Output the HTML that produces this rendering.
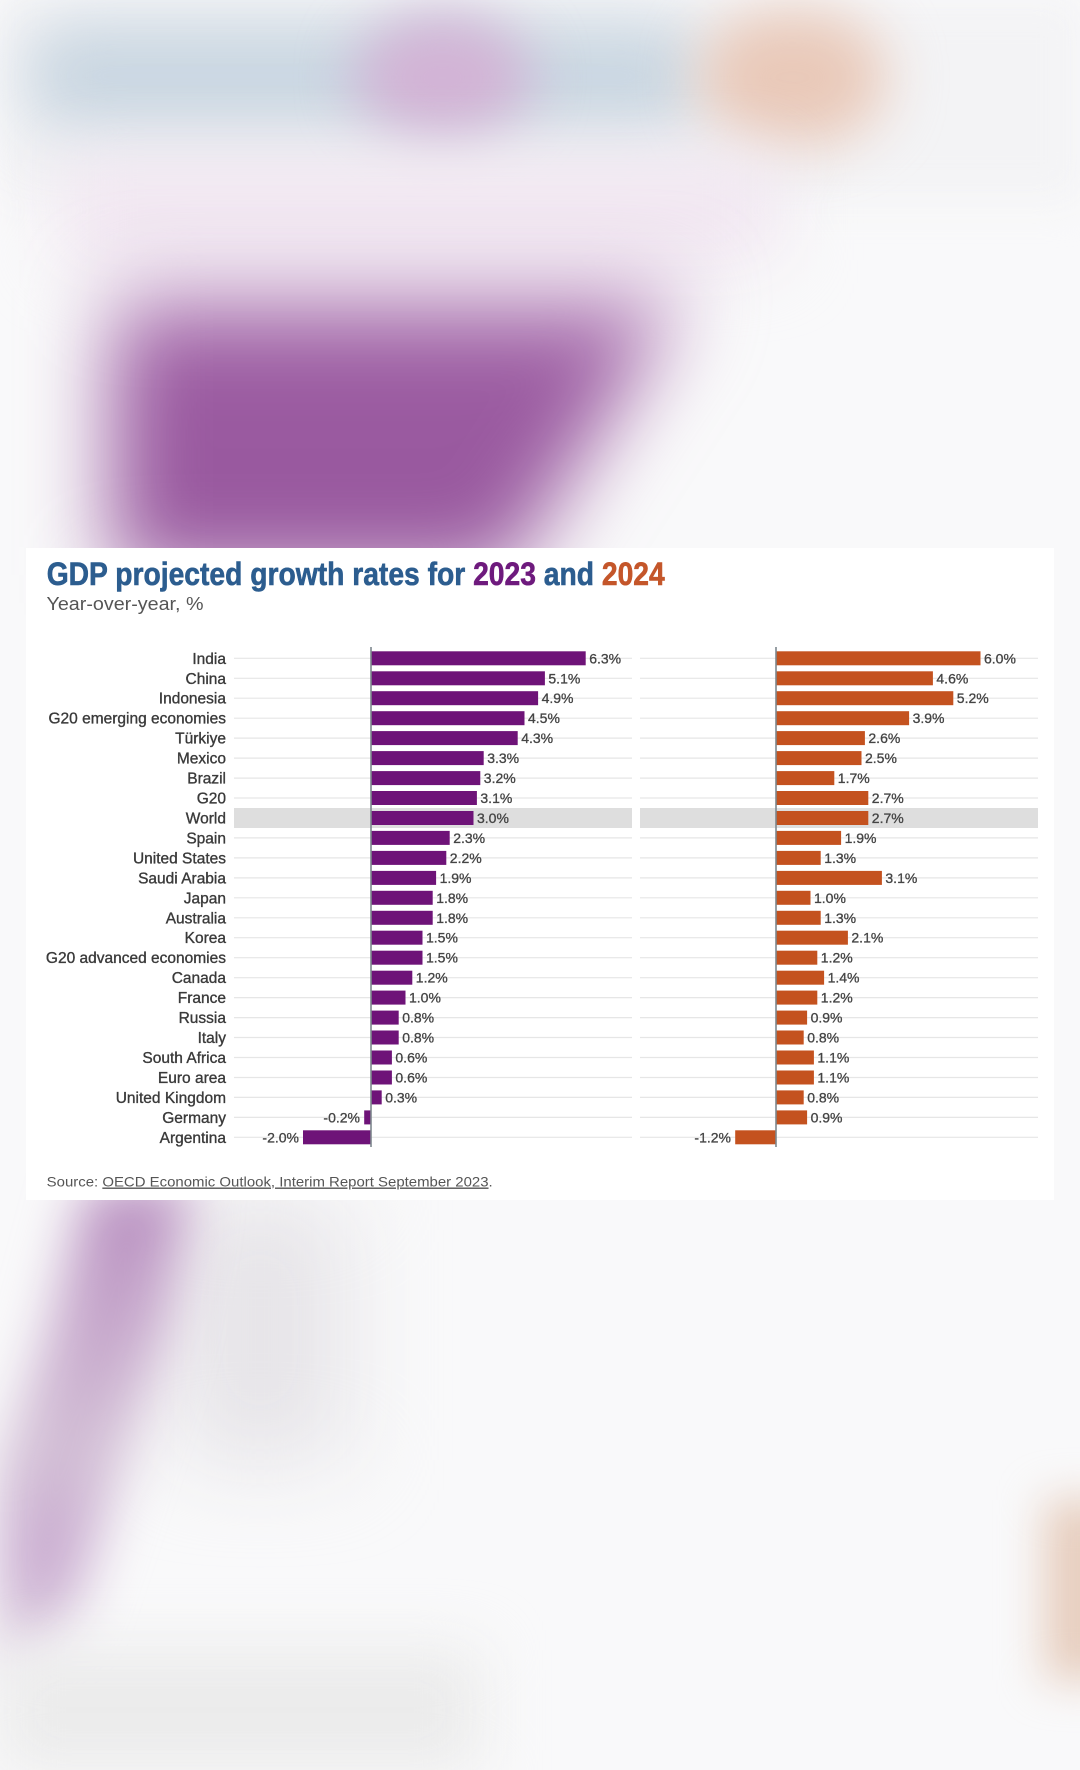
<!DOCTYPE html>
<html><head><meta charset="utf-8">
<style>
html,body{margin:0;padding:0;}
body{width:1080px;height:1748px;position:relative;overflow:hidden;background:#f9f9fa;font-family:"Liberation Sans",sans-serif;}
.b{position:absolute;}
.bl{position:absolute;left:0;top:0;width:1080px;height:1748px;}
</style></head>
<body>
<!-- blurred background -->
<div class="b" style="left:0;top:0;width:1080px;height:200px;background:#f3f3f5;filter:blur(20px)"></div>
<div class="b" style="left:25px;top:22px;width:680px;height:108px;background:#c9d6e1;filter:blur(32px);border-radius:40px"></div>
<div class="b" style="left:355px;top:15px;width:175px;height:125px;background:#d2b3d5;filter:blur(28px);border-radius:50%"></div>
<div class="b" style="left:700px;top:10px;width:185px;height:135px;background:#e9c9b9;filter:blur(28px);border-radius:45%"></div>
<div class="b" style="left:60px;top:160px;width:720px;height:100px;background:#f1e6f1;filter:blur(35px)"></div>
<div class="bl" style="filter:blur(42px)"><div class="bl" style="background:linear-gradient(#d3b4d6 0px,#d3b4d6 290px,#9b5ba1 350px,#98589e 570px);clip-path:polygon(112px 288px,690px 288px,505px 575px,112px 575px)"></div></div>
<div class="b" style="left:175px;top:1200px;width:170px;height:260px;background:#e6e4e8;filter:blur(45px)"></div>
<div class="bl" style="filter:blur(26px)"><div class="bl" style="background:linear-gradient(#b88fc0 1190px,#c7a9cc 1330px,#d3c0d6 1450px,#c9abd0 1560px,#ddd0df 1660px);clip-path:polygon(88px 1185px,190px 1185px,165px 1330px,120px 1470px,70px 1620px,0px 1670px,0px 1470px,50px 1330px)"></div></div>
<div class="b" style="left:0;top:1650px;width:480px;height:120px;background:#ebebeb;filter:blur(30px)"></div>
<div class="b" style="left:1045px;top:1500px;width:70px;height:180px;background:#e6ccbc;filter:blur(22px)"></div>

<svg class="b" style="left:0;top:0" width="1080" height="1748" viewBox="0 0 1080 1748" xmlns="http://www.w3.org/2000/svg" font-family="Liberation Sans, sans-serif">
<rect x="26" y="548" width="1028" height="652" fill="#ffffff"/>
<text x="46.7" y="585" font-size="32" font-weight="bold" fill="#2c5d8f" stroke="#2c5d8f" stroke-width="0.6" textLength="618" lengthAdjust="spacingAndGlyphs">GDP projected growth rates for <tspan fill="#6e1a7d" stroke="#6e1a7d">2023</tspan> and <tspan fill="#c4562a" stroke="#c4562a">2024</tspan></text>
<text x="46.5" y="610" font-size="18" fill="#555555" textLength="157" lengthAdjust="spacingAndGlyphs">Year-over-year, %</text>

<!-- highlight bands for World -->
<rect x="234" y="808" width="398" height="20" fill="#dedede"/>
<rect x="640" y="808" width="398" height="20" fill="#dedede"/>

<g stroke="#e6e6e6" stroke-width="1.2">
<line x1="234" x2="632" y1="658.3" y2="658.3"/><line x1="640" x2="1038" y1="658.3" y2="658.3"/>
<line x1="234" x2="632" y1="678.3" y2="678.3"/><line x1="640" x2="1038" y1="678.3" y2="678.3"/>
<line x1="234" x2="632" y1="698.2" y2="698.2"/><line x1="640" x2="1038" y1="698.2" y2="698.2"/>
<line x1="234" x2="632" y1="718.2" y2="718.2"/><line x1="640" x2="1038" y1="718.2" y2="718.2"/>
<line x1="234" x2="632" y1="738.1" y2="738.1"/><line x1="640" x2="1038" y1="738.1" y2="738.1"/>
<line x1="234" x2="632" y1="758.1" y2="758.1"/><line x1="640" x2="1038" y1="758.1" y2="758.1"/>
<line x1="234" x2="632" y1="778.1" y2="778.1"/><line x1="640" x2="1038" y1="778.1" y2="778.1"/>
<line x1="234" x2="632" y1="798" y2="798"/><line x1="640" x2="1038" y1="798" y2="798"/>
<line x1="234" x2="632" y1="837.9" y2="837.9"/><line x1="640" x2="1038" y1="837.9" y2="837.9"/>
<line x1="234" x2="632" y1="857.9" y2="857.9"/><line x1="640" x2="1038" y1="857.9" y2="857.9"/>
<line x1="234" x2="632" y1="877.9" y2="877.9"/><line x1="640" x2="1038" y1="877.9" y2="877.9"/>
<line x1="234" x2="632" y1="897.8" y2="897.8"/><line x1="640" x2="1038" y1="897.8" y2="897.8"/>
<line x1="234" x2="632" y1="917.8" y2="917.8"/><line x1="640" x2="1038" y1="917.8" y2="917.8"/>
<line x1="234" x2="632" y1="937.7" y2="937.7"/><line x1="640" x2="1038" y1="937.7" y2="937.7"/>
<line x1="234" x2="632" y1="957.7" y2="957.7"/><line x1="640" x2="1038" y1="957.7" y2="957.7"/>
<line x1="234" x2="632" y1="977.7" y2="977.7"/><line x1="640" x2="1038" y1="977.7" y2="977.7"/>
<line x1="234" x2="632" y1="997.6" y2="997.6"/><line x1="640" x2="1038" y1="997.6" y2="997.6"/>
<line x1="234" x2="632" y1="1017.6" y2="1017.6"/><line x1="640" x2="1038" y1="1017.6" y2="1017.6"/>
<line x1="234" x2="632" y1="1037.5" y2="1037.5"/><line x1="640" x2="1038" y1="1037.5" y2="1037.5"/>
<line x1="234" x2="632" y1="1057.5" y2="1057.5"/><line x1="640" x2="1038" y1="1057.5" y2="1057.5"/>
<line x1="234" x2="632" y1="1077.5" y2="1077.5"/><line x1="640" x2="1038" y1="1077.5" y2="1077.5"/>
<line x1="234" x2="632" y1="1097.4" y2="1097.4"/><line x1="640" x2="1038" y1="1097.4" y2="1097.4"/>
<line x1="234" x2="632" y1="1117.4" y2="1117.4"/><line x1="640" x2="1038" y1="1117.4" y2="1117.4"/>
<line x1="234" x2="632" y1="1137.3" y2="1137.3"/><line x1="640" x2="1038" y1="1137.3" y2="1137.3"/>
</g>

<!-- country labels -->
<g font-size="15.5" fill="#3a3a3a" stroke="#3a3a3a" stroke-width="0.35" text-anchor="end">
<text x="226" y="663.8">India</text>
<text x="226" y="683.8">China</text>
<text x="226" y="703.7">Indonesia</text>
<text x="226" y="723.7">G20 emerging economies</text>
<text x="226" y="743.6">Türkiye</text>
<text x="226" y="763.6">Mexico</text>
<text x="226" y="783.6">Brazil</text>
<text x="226" y="803.5">G20</text>
<text x="226" y="823.5">World</text>
<text x="226" y="843.4">Spain</text>
<text x="226" y="863.4">United States</text>
<text x="226" y="883.4">Saudi Arabia</text>
<text x="226" y="903.3">Japan</text>
<text x="226" y="923.3">Australia</text>
<text x="226" y="943.2">Korea</text>
<text x="226" y="963.2">G20 advanced economies</text>
<text x="226" y="983.2">Canada</text>
<text x="226" y="1003.1">France</text>
<text x="226" y="1023.1">Russia</text>
<text x="226" y="1043">Italy</text>
<text x="226" y="1063">South Africa</text>
<text x="226" y="1083">Euro area</text>
<text x="226" y="1102.9">United Kingdom</text>
<text x="226" y="1122.9">Germany</text>
<text x="226" y="1142.8">Argentina</text>
</g>

<!-- 2023 bars -->
<g fill="#6e1378">
<rect x="371.5" y="651.3" width="214.2" height="14"/>
<rect x="371.5" y="671.3" width="173.4" height="14"/>
<rect x="371.5" y="691.2" width="166.6" height="14"/>
<rect x="371.5" y="711.2" width="153" height="14"/>
<rect x="371.5" y="731.1" width="146.2" height="14"/>
<rect x="371.5" y="751.1" width="112.2" height="14"/>
<rect x="371.5" y="771.1" width="108.8" height="14"/>
<rect x="371.5" y="791" width="105.4" height="14"/>
<rect x="371.5" y="811" width="102" height="14"/>
<rect x="371.5" y="830.9" width="78.2" height="14"/>
<rect x="371.5" y="850.9" width="74.8" height="14"/>
<rect x="371.5" y="870.9" width="64.6" height="14"/>
<rect x="371.5" y="890.8" width="61.2" height="14"/>
<rect x="371.5" y="910.8" width="61.2" height="14"/>
<rect x="371.5" y="930.7" width="51" height="14"/>
<rect x="371.5" y="950.7" width="51" height="14"/>
<rect x="371.5" y="970.7" width="40.8" height="14"/>
<rect x="371.5" y="990.6" width="34" height="14"/>
<rect x="371.5" y="1010.6" width="27.2" height="14"/>
<rect x="371.5" y="1030.5" width="27.2" height="14"/>
<rect x="371.5" y="1050.5" width="20.4" height="14"/>
<rect x="371.5" y="1070.5" width="20.4" height="14"/>
<rect x="371.5" y="1090.4" width="10.2" height="14"/>
<rect x="364.2" y="1110.4" width="6.8" height="14"/>
<rect x="303" y="1130.3" width="68" height="14"/>
</g>

<!-- 2024 bars -->
<g fill="#c4521f">
<rect x="776.5" y="651.3" width="204" height="14"/>
<rect x="776.5" y="671.3" width="156.4" height="14"/>
<rect x="776.5" y="691.2" width="176.8" height="14"/>
<rect x="776.5" y="711.2" width="132.6" height="14"/>
<rect x="776.5" y="731.1" width="88.4" height="14"/>
<rect x="776.5" y="751.1" width="85" height="14"/>
<rect x="776.5" y="771.1" width="57.8" height="14"/>
<rect x="776.5" y="791" width="91.8" height="14"/>
<rect x="776.5" y="811" width="91.8" height="14"/>
<rect x="776.5" y="830.9" width="64.6" height="14"/>
<rect x="776.5" y="850.9" width="44.2" height="14"/>
<rect x="776.5" y="870.9" width="105.4" height="14"/>
<rect x="776.5" y="890.8" width="34" height="14"/>
<rect x="776.5" y="910.8" width="44.2" height="14"/>
<rect x="776.5" y="930.7" width="71.4" height="14"/>
<rect x="776.5" y="950.7" width="40.8" height="14"/>
<rect x="776.5" y="970.7" width="47.6" height="14"/>
<rect x="776.5" y="990.6" width="40.8" height="14"/>
<rect x="776.5" y="1010.6" width="30.6" height="14"/>
<rect x="776.5" y="1030.5" width="27.2" height="14"/>
<rect x="776.5" y="1050.5" width="37.4" height="14"/>
<rect x="776.5" y="1070.5" width="37.4" height="14"/>
<rect x="776.5" y="1090.4" width="27.2" height="14"/>
<rect x="776.5" y="1110.4" width="30.6" height="14"/>
<rect x="735.2" y="1130.3" width="40.8" height="14"/>
</g>

<!-- axes -->
<line x1="371" x2="371" y1="647" y2="1147" stroke="#7d878d" stroke-width="1.6"/>
<line x1="776" x2="776" y1="647" y2="1147" stroke="#7d878d" stroke-width="1.6"/>

<!-- 2023 value labels -->
<g font-size="14" fill="#444444" stroke="#444444" stroke-width="0.3">
<text x="589.2" y="663.3">6.3%</text>
<text x="548.4" y="683.3">5.1%</text>
<text x="541.6" y="703.2">4.9%</text>
<text x="528" y="723.2">4.5%</text>
<text x="521.2" y="743.1">4.3%</text>
<text x="487.2" y="763.1">3.3%</text>
<text x="483.8" y="783.1">3.2%</text>
<text x="480.4" y="803">3.1%</text>
<text x="477" y="823">3.0%</text>
<text x="453.2" y="842.9">2.3%</text>
<text x="449.8" y="862.9">2.2%</text>
<text x="439.6" y="882.9">1.9%</text>
<text x="436.2" y="902.8">1.8%</text>
<text x="436.2" y="922.8">1.8%</text>
<text x="426" y="942.7">1.5%</text>
<text x="426" y="962.7">1.5%</text>
<text x="415.8" y="982.7">1.2%</text>
<text x="409" y="1002.6">1.0%</text>
<text x="402.2" y="1022.6">0.8%</text>
<text x="402.2" y="1042.5">0.8%</text>
<text x="395.4" y="1062.5">0.6%</text>
<text x="395.4" y="1082.5">0.6%</text>
<text x="385.2" y="1102.4">0.3%</text>
<text x="360" y="1122.4" text-anchor="end">-0.2%</text>
<text x="299" y="1142.3" text-anchor="end">-2.0%</text>
</g>

<!-- 2024 value labels -->
<g font-size="14" fill="#444444" stroke="#444444" stroke-width="0.3">
<text x="984" y="663.3">6.0%</text>
<text x="936.4" y="683.3">4.6%</text>
<text x="956.8" y="703.2">5.2%</text>
<text x="912.6" y="723.2">3.9%</text>
<text x="868.4" y="743.1">2.6%</text>
<text x="865" y="763.1">2.5%</text>
<text x="837.8" y="783.1">1.7%</text>
<text x="871.8" y="803">2.7%</text>
<text x="871.8" y="823">2.7%</text>
<text x="844.6" y="842.9">1.9%</text>
<text x="824.2" y="862.9">1.3%</text>
<text x="885.4" y="882.9">3.1%</text>
<text x="814" y="902.8">1.0%</text>
<text x="824.2" y="922.8">1.3%</text>
<text x="851.4" y="942.7">2.1%</text>
<text x="820.8" y="962.7">1.2%</text>
<text x="827.6" y="982.7">1.4%</text>
<text x="820.8" y="1002.6">1.2%</text>
<text x="810.6" y="1022.6">0.9%</text>
<text x="807.2" y="1042.5">0.8%</text>
<text x="817.4" y="1062.5">1.1%</text>
<text x="817.4" y="1082.5">1.1%</text>
<text x="807.2" y="1102.4">0.8%</text>
<text x="810.6" y="1122.4">0.9%</text>
<text x="731" y="1142.3" text-anchor="end">-1.2%</text>
</g>

<text x="46.7" y="1186.5" font-size="14" fill="#555555" textLength="446" lengthAdjust="spacingAndGlyphs">Source: <tspan text-decoration="underline">OECD Economic Outlook, Interim Report September 2023</tspan>.</text>
</svg>
</body></html>
